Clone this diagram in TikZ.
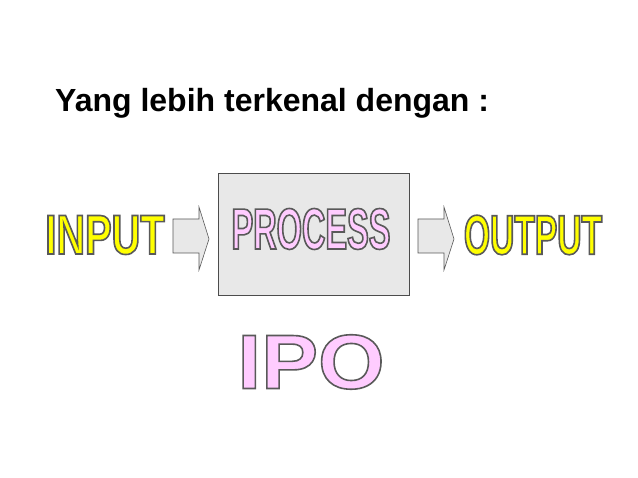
\documentclass[tikz,border=0pt]{standalone}
\usepackage{fontspec}
\setmainfont{Liberation Sans}
\newfontfamily\fa[FakeStretch=0.71]{Liberation Sans Bold}
\newfontfamily\fb[FakeStretch=0.56]{Liberation Sans Bold}
\newfontfamily\fc[FakeStretch=0.6]{Liberation Sans Bold}
\newfontfamily\fd[FakeStretch=1.11]{Liberation Sans Bold}
\newcommand{\outl}[1]{\special{pdf:literal direct 2 Tr 1.6 w 0.35 0.35 0.35 RG}#1\special{pdf:literal direct 0 Tr}}
\definecolor{wyel}{RGB}{255,255,0}
\definecolor{wpink}{RGB}{255,204,255}
\definecolor{boxg}{RGB}{232,232,232}
\tikzset{arr/.style={draw=black!65,fill=boxg,line width=0.6pt},
 word/.style={inner sep=0pt,anchor=center}}
\begin{document}
\begin{tikzpicture}[x=1pt,y=-1pt]
\useasboundingbox (0,0) rectangle (638,478);
\node[anchor=west,inner sep=0pt,font=\bfseries\fontsize{32}{36}\selectfont] (title) at (55,103) {Yang lebih terkenal dengan :};
\node[draw=black!70,fill=boxg,line width=0.8pt,minimum width=191pt,minimum height=122pt,inner sep=0pt] (proc) at (313.5,234) {};
\draw[arr] (173,219) -- (199,219) -- (199,207) -- (209,239) -- (199,270) -- (199,253) -- (173,253) -- cycle;
\draw[arr] (418,219) -- (444,219) -- (444,207) -- (454,239) -- (444,270) -- (444,253) -- (418,253) -- cycle;
\node[word,font=\fa\fontsize{56}{60}\selectfont] (in) at (105,235) {\color{wyel}\outl{INPUT}};
\node[word,font=\fb\fontsize{58}{60}\selectfont] (pr) at (311,229) {\color{wpink}\outl{PROCESS}};
\node[word,font=\fc\fontsize{56}{60}\selectfont] (out) at (533,235) {\color{wyel}\outl{OUTPUT}};
\node[word,font=\fd\fontsize{77}{80}\selectfont] (ipo) at (311,362) {\color{wpink}\outl{IPO}};
\end{tikzpicture}
\end{document}
